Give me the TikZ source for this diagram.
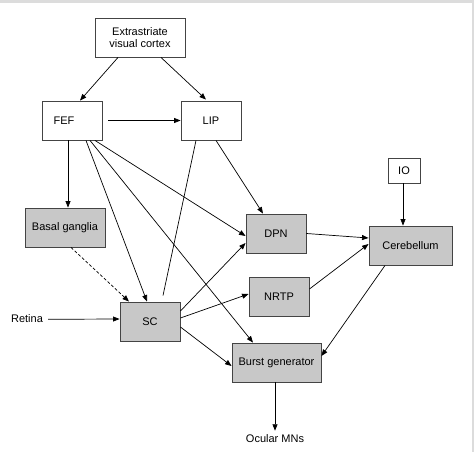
\documentclass[tikz,border=0pt]{standalone}
\usepackage{fontspec}
\setmainfont{Liberation Sans}
\usetikzlibrary{arrows.meta}
\definecolor{boxgray}{HTML}{C8C8C8}
\definecolor{edgegray}{HTML}{444444}
\definecolor{framegray}{HTML}{DCDCDC}
\tikzset{
  box/.style={draw=edgegray, line width=0.9pt, minimum height=39pt, inner sep=0pt, font=\fontsize{11}{12.5}\selectfont, align=center},
  graybox/.style={box, fill=boxgray},
  plain/.style={inner sep=0pt, font=\fontsize{11}{12.5}\selectfont},
  conn/.style={line width=0.7pt, black, -{Triangle[length=6.5pt,width=5pt]}},
  bare/.style={line width=0.7pt, black},
}
\begin{document}
\begin{tikzpicture}[x=1pt,y=-1pt]
\useasboundingbox (0,0) rectangle (474,452);
\fill[white] (0,0) rectangle (474,452);
\fill[framegray] (0,0) rectangle (474,3);
\fill[framegray] (471.5,0) rectangle (474,452);

\node[box, minimum width=90pt] (ext) at (140,37.5) {Extrastriate\\visual cortex};
\node[box, minimum width=60pt] (fef) at (72,120.5) {FEF\kern16pt};
\node[box, minimum width=60pt] (lip) at (211,120.5) {LIP};
\node[box, minimum width=32pt, minimum height=25pt] (io) at (404,170.5) {IO};
\node[graybox, minimum width=80pt] (bg) at (65,227.5) {Basal ganglia};
\node[graybox, minimum width=60pt] (dpn) at (276,233.5) {DPN};
\node[graybox, minimum width=83pt] (cer) at (410.5,245.5) {Cerebellum};
\node[graybox, minimum width=60pt] (nrtp) at (279,296.5) {NRTP};
\node[graybox, minimum width=60pt] (sc) at (150,321.5) {SC};
\node[graybox, minimum width=89pt] (bur) at (276.5,362.5) {Burst generator};
\node[plain] (ret) at (27,319) {Retina};
\node[plain] (oc) at (275,439) {Ocular MNs};

\draw[conn] ([xshift=-22pt]ext.south) -- ([xshift=8pt]fef.north);
\draw[conn] ([xshift=21pt]ext.south) -- ([xshift=-5pt,yshift=1pt]lip.north);
\draw[conn] ([xshift=6pt]fef.east) -- (lip.west);
\draw[conn] ([xshift=-4pt]fef.south) -- ([xshift=3pt]bg.north);
\draw[conn] ([xshift=14pt]fef.south) -- ([xshift=-3pt]sc.north);
\draw[conn] ([xshift=18pt]fef.south) -- ([xshift=-23.5pt]bur.north);
\draw[conn] ([xshift=23pt]fef.south) -- ([yshift=-2.5pt]dpn.west);
\draw[bare] ([xshift=-15pt]lip.south) -- ([xshift=13pt,yshift=6pt]sc.north);
\draw[conn] ([xshift=5pt]lip.south) -- ([xshift=-13pt]dpn.north);
\draw[conn, dashed, dash pattern=on 3pt off 2pt] ([xshift=6pt]bg.south) -- ([xshift=-21pt]sc.north);
\draw[conn] ([xshift=5pt,yshift=-0.3pt]ret.east) -- ([yshift=2.5pt]sc.west);
\draw[conn] ([yshift=10.5pt]sc.east) -- ([yshift=-9.5pt]dpn.west);
\draw[conn] ([yshift=3.5pt]sc.east) -- ([yshift=2.5pt]nrtp.west);
\draw[conn] ([yshift=-5.5pt]sc.east) -- ([yshift=-3.5pt]bur.west);
\draw[conn] (dpn.east) -- ([yshift=7.5pt]cer.west);
\draw[conn] ([yshift=7.5pt]nrtp.east) -- ([yshift=1.5pt]cer.west);
\draw[conn] ([xshift=-25.5pt]cer.south) -- ([yshift=6.5pt]bur.east);
\draw[conn] ([xshift=-1pt]io.south) -- ([xshift=-7.5pt]cer.north);
\draw[conn] ([xshift=-1.5pt]bur.south) -- ([yshift=4pt]oc.north);
\end{tikzpicture}
\end{document}
